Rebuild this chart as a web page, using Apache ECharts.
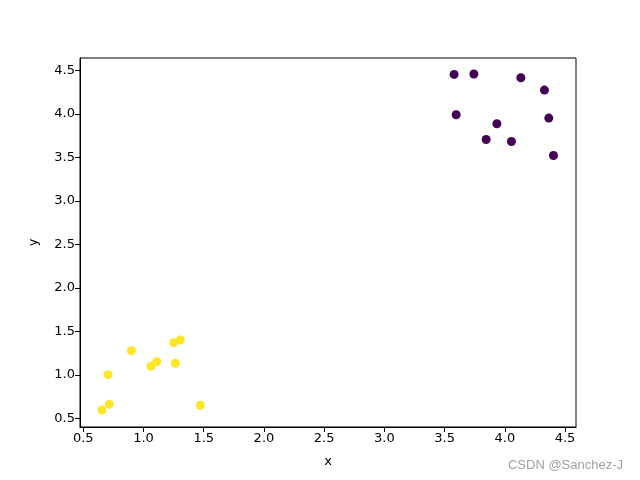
<!DOCTYPE html>
<html>
<head>
<meta charset="utf-8">
<script src="https://cdn.jsdelivr.net/npm/echarts@6/dist/echarts.min.js"></script>
<style>html,body{margin:0;padding:0;background:#fff}#c{width:640px;height:480px}</style>
</head>
<body>
<div id="c"></div>
<script>
// Cluster 0 (dark purple)
const cluster0X = [3.579, 3.743, 4.133, 4.329, 3.596, 4.365, 3.934, 3.845, 4.055, 4.404];
const cluster0Y = [4.454, 4.459, 4.416, 4.274, 3.990, 3.952, 3.887, 3.706, 3.683, 3.522];
// Cluster 1 (yellow)
const cluster1X = [0.655, 0.716, 0.705, 0.899, 1.062, 1.110, 1.251, 1.306, 1.264, 1.472];
const cluster1Y = [0.595, 0.661, 1.002, 1.278, 1.098, 1.151, 1.370, 1.401, 1.133, 0.650];
const xTicks = [0.5, 1.0, 1.5, 2.0, 2.5, 3.0, 3.5, 4.0, 4.5];
const yTicks = [0.5, 1.0, 1.5, 2.0, 2.5, 3.0, 3.5, 4.0, 4.5];
const xLabel = 'x';
const yLabel = 'y';
const watermark = 'CSDN @Sanchez-J';

const pts = (xs, ys) => xs.map((v, i) => [v, ys[i]]);
const font = 'DejaVu Sans';
const chart = echarts.init(document.getElementById('c'), null, {renderer: 'canvas'});
chart.setOption({
  animation: false,
  backgroundColor: '#fff',
  grid: {left: 80, right: 64, top: 58, bottom: 53, show: true, borderColor: '#000', borderWidth: 1, containLabel: false},
  xAxis: {
    type: 'value', min: 0.4726, max: 4.591,
    name: xLabel, nameLocation: 'middle', nameGap: 28,
    nameTextStyle: {fontFamily: font, fontSize: 13, color: '#000'},
    axisLine: {show: true, onZero: false, lineStyle: {color: '#000', width: 1}},
    axisTick: {show: true, length: 5, customValues: xTicks, lineStyle: {color: '#000'}},
    axisLabel: {customValues: xTicks, fontFamily: font, fontSize: 13, color: '#000', margin: 5,
      formatter: v => v.toFixed(1)},
    splitLine: {show: false}
  },
  yAxis: {
    type: 'value', min: 0.400, max: 4.643,
    name: yLabel, nameLocation: 'middle', nameGap: 40, nameRotate: 90,
    nameTextStyle: {fontFamily: font, fontSize: 13, color: '#000'},
    axisLine: {show: true, onZero: false, lineStyle: {color: '#000', width: 1}},
    axisTick: {show: true, length: 5, customValues: yTicks, lineStyle: {color: '#000'}},
    axisLabel: {customValues: yTicks, fontFamily: font, fontSize: 13, color: '#000', margin: 5,
      formatter: v => v.toFixed(1)},
    splitLine: {show: false}
  },
  series: [
    {type: 'scatter', data: pts(cluster0X, cluster0Y), symbolSize: 9, itemStyle: {color: '#440154', opacity: 1}},
    {type: 'scatter', data: pts(cluster1X, cluster1Y), symbolSize: 9, itemStyle: {color: '#fde725', opacity: 1}}
  ],
  graphic: [{
    type: 'text', right: 17, bottom: 8,
    style: {text: watermark, fontFamily: 'Liberation Sans', fontSize: 13, fill: '#a0a0a0'}
  }]
});
</script>
</body>
</html>
